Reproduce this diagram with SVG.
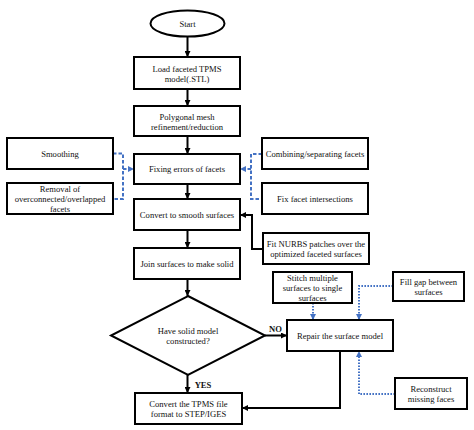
<svg xmlns="http://www.w3.org/2000/svg" width="474" height="430" viewBox="0 0 474 430">
<style>
.box{fill:#fff;stroke:#000;stroke-width:2}
.t{font-family:"Liberation Serif","Times New Roman",serif;font-size:8.6px;fill:#111;text-anchor:middle}
.b{font-weight:bold}
.ln{fill:none;stroke:#000;stroke-width:2}
.dash{fill:none;stroke:#4472C4;stroke-width:2;stroke-dasharray:3.5,2}
.dot{fill:none;stroke:#4472C4;stroke-width:2;stroke-dasharray:1.6,1.4}
</style>
<defs>
<marker id="ah" viewBox="0 0 6 6" refX="6" refY="3" markerWidth="6" markerHeight="6" markerUnits="userSpaceOnUse" orient="auto"><path d="M0,0 L6,3 L0,6 z" fill="#000"/></marker>
<marker id="bh" viewBox="0 0 6 6" refX="6" refY="3" markerWidth="6" markerHeight="6" markerUnits="userSpaceOnUse" orient="auto"><path d="M0,0 L6,3 L0,6 z" fill="#4472C4"/></marker>
</defs>
<rect width="474" height="430" fill="#fff"/>
<g id="connectors">
<line class="ln" x1="187.5" y1="36.5" x2="187.5" y2="57" marker-end="url(#ah)"/>
<line class="ln" x1="187.5" y1="89" x2="187.5" y2="106" marker-end="url(#ah)"/>
<line class="ln" x1="187.5" y1="136" x2="187.5" y2="154" marker-end="url(#ah)"/>
<line class="ln" x1="187.5" y1="184" x2="187.5" y2="199" marker-end="url(#ah)"/>
<line class="ln" x1="187.5" y1="230" x2="187.5" y2="248" marker-end="url(#ah)"/>
<line class="ln" x1="187.5" y1="279" x2="187.5" y2="296" marker-end="url(#ah)"/>
<line class="ln" x1="187.5" y1="375" x2="187.5" y2="393" marker-end="url(#ah)"/>
<line class="ln" x1="265" y1="335.5" x2="287" y2="335.5" marker-end="url(#ah)"/>
<polyline class="ln" points="263,249 252,249 252,215 240,215" marker-end="url(#ah)"/>
<polyline class="ln" points="340,351 340,408 242,408" marker-end="url(#ah)"/>
<polyline class="dash" points="113,153.5 123,153.5 123,199 113,199"/>
<line class="dash" x1="123" y1="169" x2="134" y2="169" marker-end="url(#bh)"/>
<polyline class="dash" points="262,154 251,154 251,199 262,199"/>
<line class="dash" x1="251" y1="169" x2="240" y2="169" marker-end="url(#bh)"/>
<line class="dot" x1="313" y1="303" x2="313" y2="320" marker-end="url(#bh)"/>
<polyline class="dot" points="393,286 359,286 359,320" marker-end="url(#bh)"/>
<polyline class="dot" points="395,394 359,394 359,351" marker-end="url(#bh)"/>
</g>
<g id="start"><ellipse class="box" cx="187.5" cy="23.5" rx="37" ry="13"/><text class="t" x="187.5" y="26.5">Start</text></g>
<g id="load"><rect class="box" x="134" y="57" width="106" height="32"/><text class="t" x="187" y="71.5">Load faceted TPMS</text><text class="t" x="187" y="81.5">model(.STL)</text></g>
<g id="poly"><rect class="box" x="134" y="106" width="106" height="30"/><text class="t" x="187" y="120">Polygonal mesh</text><text class="t" x="187" y="130">refinement/reduction</text></g>
<g id="smoothing"><rect class="box" x="7" y="138" width="106" height="31"/><text class="t" x="60" y="156.5">Smoothing</text></g>
<g id="fixing"><rect class="box" x="134" y="154" width="106" height="30"/><text class="t" x="187" y="172">Fixing errors of facets</text></g>
<g id="combining"><rect class="box" x="262" y="138" width="106" height="31"/><text class="t" x="315" y="157">Combining/separating facets</text></g>
<g id="removal"><rect class="box" x="7" y="183" width="106" height="31"/><text class="t" x="60" y="192">Removal of</text><text class="t" x="60" y="202">overconnected/overlapped</text><text class="t" x="60" y="212">facets</text></g>
<g id="fixint"><rect class="box" x="262" y="183" width="106" height="31"/><text class="t" x="315" y="202">Fix facet intersections</text></g>
<g id="convert"><rect class="box" x="134" y="199" width="106" height="31"/><text class="t" x="187" y="217.5">Convert to smooth surfaces</text></g>
<g id="nurbs"><rect class="box" x="263" y="233" width="106" height="31"/><text class="t" x="316" y="247">Fit NURBS patches over the</text><text class="t" x="316" y="257">optimized faceted surfaces</text></g>
<g id="join"><rect class="box" x="134" y="248" width="106" height="31"/><text class="t" x="187" y="267">Join surfaces to make solid</text></g>
<g id="stitch"><rect class="box" x="273" y="272" width="79" height="31"/><text class="t" x="312.5" y="280.5">Stitch multiple</text><text class="t" x="312.5" y="290.5">surfaces to single</text><text class="t" x="312.5" y="300.5">surfaces</text></g>
<g id="fillgap"><rect class="box" x="393" y="272" width="71" height="29"/><text class="t" x="428.5" y="285">Fill gap between</text><text class="t" x="428.5" y="295">surfaces</text></g>
<g id="decision"><polygon class="box" points="188,296 265,335.5 188,375 111,335.5"/><text class="t" x="188" y="334">Have solid model</text><text class="t" x="188" y="344">constructed?</text></g>
<g id="repair"><rect class="box" x="287" y="320" width="106" height="31"/><text class="t" x="340" y="339">Repair the surface model</text></g>
<g id="reconstruct"><rect class="box" x="395" y="378" width="72" height="31"/><text class="t" x="431" y="392">Reconstruct</text><text class="t" x="431" y="402">missing faces</text></g>
<g id="tpms"><rect class="box" x="135" y="393" width="107" height="31"/><text class="t" x="188.5" y="407">Convert the TPMS file</text><text class="t" x="188.5" y="417">format to STEP/IGES</text></g>
<text class="t b" x="275.5" y="332">NO</text>
<text class="t b" x="203" y="387.5">YES</text>
</svg>
